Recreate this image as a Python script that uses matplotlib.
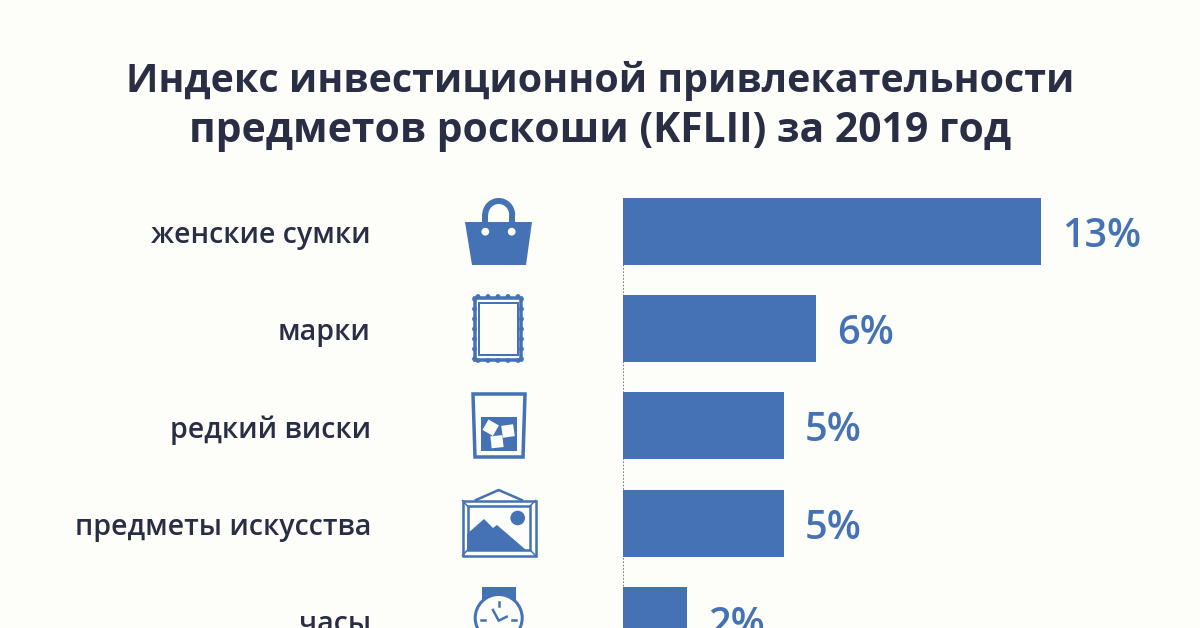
import matplotlib
matplotlib.use('Agg')
import matplotlib.pyplot as plt
from matplotlib.patches import Polygon, Circle, Rectangle, Arc
from matplotlib.transforms import Affine2D

# data
categories = ['женские сумки', 'марки', 'редкий виски', 'предметы искусства', 'часы']
values = [13, 6, 5, 5, 2]
title_lines = ['Индекс инвестиционной привлекательности',
               'предметов роскоши (KFLII) за 2019 год']

BG = '#FDFDF9'
BLUE = '#4472B5'
DARK = '#2A2E45'
FONT = ['Open Sans', 'DejaVu Sans']

fig = plt.figure(figsize=(12, 6.28), dpi=100, facecolor=BG)

# bars: one axes from x=623px to the right edge
ax = fig.add_axes([623 / 1200, 0, 577 / 1200, 1], facecolor='none')
pitch = 97.3
y0 = 231.3
ax.barh(range(len(values)), values, height=67 / pitch, color=BLUE)
ax.set_xlim(0, 577 / 32.15)
ax.set_ylim((628 - y0) / pitch, -y0 / pitch)
ax.axis('off')
ax.plot([0, 0], [-33 / pitch, (628 - y0) / pitch], color='#66666e', lw=1.2, ls=(0, (1, 1)))

for i, v in enumerate(values):
    ax.annotate(f'{v}%', (v, i), xytext=(15, -4), textcoords='offset points',
                va='center', ha='left', fontsize=28.5, fontweight='semibold',
                color=BLUE, family=FONT)

# overlay in pixel coordinates for the title, labels and icons
ov = fig.add_axes([0, 0, 1, 1], facecolor='none')
ov.set_xlim(0, 1200)
ov.set_ylim(628, 0)
ov.axis('off')

ov.text(600, 81, title_lines[0], ha='center', va='center', fontsize=28.4, fontweight='bold',
        color=DARK, family=FONT)
ov.text(600, 131, title_lines[1], ha='center', va='center', fontsize=29.4, fontweight='bold',
        color=DARK, family=FONT)

for i, c in enumerate(categories):
    ov.text(371, y0 + pitch * i + 4, c, ha='right', va='center', fontsize=20.6, fontweight='semibold',
            color=DARK, family=FONT)


def px(w):
    # line width given in pixels
    return w * 72 / 100


# bag
ov.add_patch(Polygon([(465, 222), (532, 222), (526, 265), (472, 265)], color=BLUE, lw=0))
ov.add_patch(Arc((498.7, 215), 27, 28, theta1=180, theta2=360, color=BLUE, lw=px(6)))
ov.plot([485.2, 485.2], [214, 224], color=BLUE, lw=px(6), solid_capstyle='butt')
ov.plot([512.2, 512.2], [214, 224], color=BLUE, lw=px(6), solid_capstyle='butt')
for hx in (485.3, 511.7):
    ov.add_patch(Circle((hx, 231.7), 3.9, color=BG, lw=0))

# stamp
ov.add_patch(Rectangle((475, 298), 46, 62, fill=False, ec=BLUE, lw=px(3.5)))
ov.add_patch(Rectangle((479, 303), 39, 52, fill=False, ec=BLUE, lw=px(2)))
for k in range(5):
    ov.add_patch(Circle((478 + k * 10, 296.5), 2.4, color=BLUE, lw=0))
    ov.add_patch(Circle((478 + k * 10, 360.5), 2.4, color=BLUE, lw=0))
for k in range(7):
    ov.add_patch(Circle((474.5, 299 + k * 10), 2.4, color=BLUE, lw=0))
    ov.add_patch(Circle((521.5, 299 + k * 10), 2.4, color=BLUE, lw=0))

# whisky glass
ov.add_patch(Polygon([(473, 394), (525, 394), (523, 457), (475, 457)], closed=True, fill=False,
                     ec=BLUE, lw=px(3.5)))
ov.add_patch(Rectangle((480.7, 417), 36.5, 34, color=BLUE, lw=0))
for cx, cy, ang in [(490.7, 427.7, 30), (508, 431, -8), (497, 441.7, -6)]:
    t = Affine2D().rotate_deg_around(cx, cy, ang) + ov.transData
    ov.add_patch(Rectangle((cx - 6, cy - 6), 12, 12, color=BG, lw=0, transform=t))

# picture
ov.add_patch(Rectangle((462.5, 500.5), 73, 55, fill=False, ec=BLUE, lw=px(2.5)))
ov.add_patch(Rectangle((467.5, 506), 62.5, 44, fill=False, ec=BLUE, lw=px(2.5)))
for a, b in [((462.5, 500.5), (467.5, 506)), ((535.5, 500.5), (530, 506)),
             ((462.5, 555.5), (467.5, 550)), ((535.5, 555.5), (530, 550))]:
    ov.plot([a[0], b[0]], [a[1], b[1]], color=BLUE, lw=px(1.5))
ov.plot([476, 498.7, 521.7], [500, 490, 500], color=BLUE, lw=px(2.5))
ov.add_patch(Circle((517.7, 518), 7.3, color=BLUE, lw=0))
ov.add_patch(Polygon([(467, 534), (484, 519), (493, 528), (497, 525), (526, 550), (467, 550)],
                     color=BLUE, lw=0))

# watch
ov.add_patch(Rectangle((482, 587), 34, 13, color=BLUE, lw=0))
ov.add_patch(Circle((498.7, 618), 23.5, fc=BG, ec=BLUE, lw=px(3)))
ov.plot([498.7, 498.7], [602, 606], color=BLUE, lw=px(2.5))
ov.plot([481, 485], [620, 620], color=BLUE, lw=px(2.5))
ov.plot([512, 516], [620, 620], color=BLUE, lw=px(2.5))
ov.plot([493, 498.7, 506.7], [610, 620.7, 616.7], color=BLUE, lw=px(2.5))

fig.savefig('out.png', dpi=100, facecolor=BG)
